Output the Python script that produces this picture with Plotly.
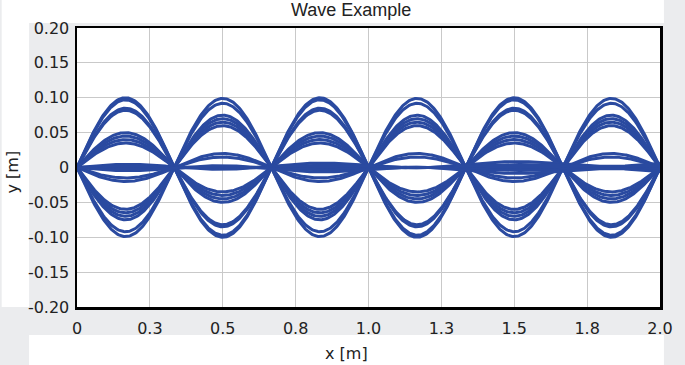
import numpy as np
import plotly.graph_objects as go

# Peak values (y at the first antinode, x = 1/6 m) read for each snapshot
peak_values = [0.100, 0.097, 0.085, 0.082, 0.050, 0.045, 0.040, 0.035,
               -0.015, -0.020, -0.060, -0.065, -0.070, -0.075, -0.092, -0.099,
               0.004, 0.002, 0.0, -0.002, -0.004]
# y offset reached at the right end (x = 2.0 m) for each snapshot
end_offsets = [0.0, 0.0, 0.0, 0.0, 0.0, 0.0, 0.0, 0.0,
               0.0, 0.0, 0.0, 0.0, 0.0, 0.0, 0.0, 0.0,
               0.006, 0.003, 0.0, -0.003, -0.006]
half_wavelength = 1 / 3  # metres between nodes

x_tick_vals = [0, 0.25, 0.5, 0.75, 1.0, 1.25, 1.5, 1.75, 2.0]
x_tick_text = ["0", "0.3", "0.5", "0.8", "1.0", "1.3", "1.5", "1.8", "2.0"]
y_tick_vals = [0.20, 0.15, 0.10, 0.05, 0, -0.05, -0.10, -0.15, -0.20]
y_tick_text = ["0.20", "0.15", "0.10", "0.05", "0", "-0.05", "-0.10", "-0.15", "-0.20"]

x = np.linspace(0, 2.0, 601)
line_color = "#2a4aa0"

fig = go.Figure()
for a, e in zip(peak_values, end_offsets):
    y = a * np.sin(np.pi * x / half_wavelength) + e * x / 2.0
    fig.add_trace(go.Scatter(x=x, y=y, mode="lines",
                             line=dict(color=line_color, width=3),
                             showlegend=False, hoverinfo="skip"))

W, H = 685, 365
L, R, T, B = 77, 673, 28, 307
pw, ph = R - L, B - T

def px(v):
    return (v - L) / pw

def py(v):
    return (B - v) / ph

gray = "#ebecee"
white = "#ffffff"

def rect(x0, x1, y0, y1, color):
    # pixel box (left, right, top, bottom) -> paper coordinates
    return dict(type="rect", xref="paper", yref="paper",
                x0=px(x0), x1=px(x1), y0=py(y1), y1=py(y0),
                fillcolor=color, line_width=0, layer="below")

shapes = [
    rect(0, 677, 0, 23, white),      # top band above the label column
    rect(0, 28, 23, 307, white),     # left strip beside the y tick column
    rect(28, 677, 335, 365, white),  # area under the x tick row
]

tick_font = dict(family="DejaVu Sans", size=16, color="#222222")

fig.update_layout(
    width=W, height=H,
    margin=dict(l=L, r=W - R, t=T, b=H - B, pad=0),
    paper_bgcolor=gray, plot_bgcolor="white",
    shapes=shapes,
    xaxis=dict(range=[0, 2.0], tickvals=x_tick_vals, ticktext=x_tick_text,
               showgrid=True, gridcolor="#c9c9c9", gridwidth=1.2,
               zeroline=False, showline=True, linecolor="black", linewidth=2.5, mirror=True,
               ticks="", tickfont=tick_font, ticklabelstandoff=5),
    yaxis=dict(range=[-0.20, 0.20], tickvals=y_tick_vals, ticktext=y_tick_text,
               showgrid=True, gridcolor="#c9c9c9", gridwidth=1.2,
               zeroline=False, showline=True, linecolor="black", linewidth=2.5, mirror=True,
               ticks="", tickfont=tick_font, ticklabelstandoff=2),
    annotations=[
        dict(text="Wave Example", xref="paper", yref="paper", x=px(357), y=py(10),
             xanchor="center", yanchor="middle", showarrow=False,
             font=dict(family="Liberation Sans", size=18, color="#222222")),
        dict(text="x [m]", xref="paper", yref="paper", x=px(353), y=py(353),
             xanchor="center", yanchor="middle", showarrow=False,
             font=dict(family="DejaVu Sans", size=16, color="#222222")),
        dict(text="y [m]", xref="paper", yref="paper", x=px(11), y=py(172),
             xanchor="center", yanchor="middle", showarrow=False, textangle=-90,
             font=dict(family="DejaVu Sans", size=16, color="#222222")),
    ],
)

fig.write_html("out.html", config={"staticPlot": True},
               post_script="document.body.style.margin='0';document.body.style.overflow='hidden';")
